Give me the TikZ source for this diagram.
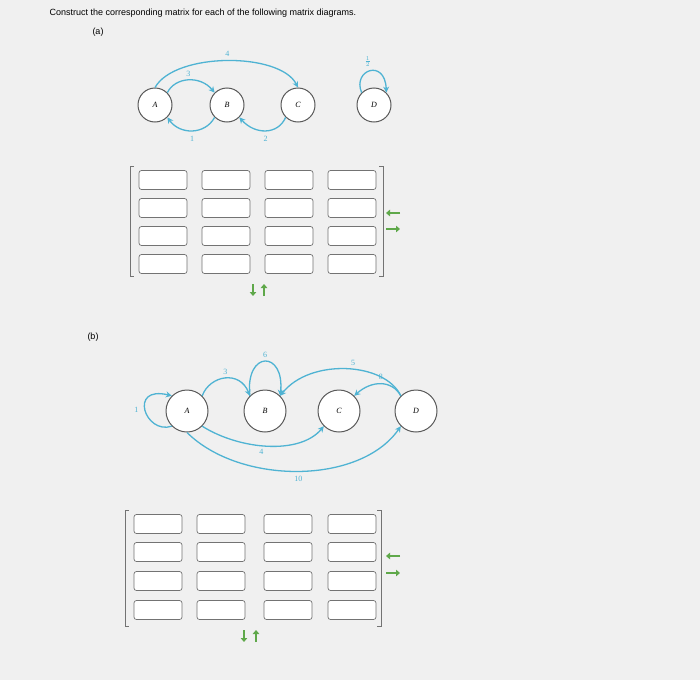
\documentclass[tikz,border=0pt]{standalone}
\usepackage{fontspec}
\setmainfont{Liberation Serif}
\newfontfamily\uifont{Liberation Sans}
\usetikzlibrary{arrows.meta}
\definecolor{edge}{HTML}{4FB3D3}
\definecolor{grn}{HTML}{5FA84A}
\begin{document}
\begin{tikzpicture}[x=1pt,y=-1pt,
  vert/.style={circle,draw=black!65,line width=1pt,fill=white,inner sep=0pt,font=\itshape\footnotesize},
  va/.style={vert,minimum size=34pt},
  vb/.style={vert,minimum size=42pt},
  ed/.style={draw=edge,line width=1.3pt,-{Stealth[length=6pt,width=6pt]}},
  el/.style={text=edge,font=\footnotesize},
  cell/.style={draw=black!55,rounded corners=2.5pt,fill=white,line width=0.7pt,minimum width=48pt,minimum height=19pt,inner sep=0pt},
  brk/.style={draw=black!55,line width=0.8pt},
  garr/.style={draw=grn,line width=2.2pt,-{Triangle[length=4pt,width=6.5pt]}}]
\fill[black!6] (0,0) rectangle (700,680);
\node[anchor=west,font=\uifont\small] (title) at (46,13) {Construct the corresponding matrix for each of the following matrix diagrams.};
\node[font=\uifont\small] (la) at (98,32) {(a)};
\node[font=\uifont\small] (lb) at (93,337) {(b)};
% (a) graph
\node[va] (A) at (155,105) {A};
\node[va] (B) at (227,105) {B};
\node[va] (C) at (298,105) {C};
\node[va] (D) at (374,105) {D};
\draw[ed] (A.north) .. controls (175,52) and (280,52) .. (C.north) node[el,pos=0.5,above] {4};
\draw[ed] (A.north east) .. controls (175,77) and (200,75) .. (B.north west) node[el,pos=0.5,above] {3};
\draw[ed] (B.south west) .. controls (205,135) and (180,135) .. (A.south east) node[el,pos=0.5,below=2pt] {1};
\draw[ed] (C.south west) .. controls (278,135) and (255,135) .. (B.south east) node[el,pos=0.5,below=2pt] {2};
\draw[ed] (D.north west) .. controls (352,70) and (385,58) .. (D.north east) node[el,pos=0.45,above=1pt] {$\frac{1}{2}$};
% (a) matrix
\foreach \r/\y in {1/180,2/208,3/236,4/264}{
  \foreach \c/\x in {1/163,2/226,3/289,4/352}{
    \node[cell] (a\r\c) at (\x,\y) {};}}
\draw[brk] (134,166) -- (130,166) -- (130,276) -- (134,276);
\draw[brk] (379,166) -- (383,166) -- (383,276) -- (379,276);
\coordinate (ar1) at (400,213); \coordinate (ar2) at (386,213);
\coordinate (ar3) at (386,229); \coordinate (ar4) at (400,229);
\draw[garr] (ar1) -- (ar2); \draw[garr] (ar3) -- (ar4);
\coordinate (ad1) at (253,284); \coordinate (ad2) at (253,296);
\coordinate (au1) at (264,296); \coordinate (au2) at (264,284);
\draw[garr] (ad1) -- (ad2); \draw[garr] (au1) -- (au2);
% (b) graph
\node[vb] (A2) at (187,411) {A};
\node[vb] (B2) at (265,411) {B};
\node[vb] (C2) at (339,411) {C};
\node[vb] (D2) at (416,411) {D};
\draw[ed] (A2.south west) .. controls (145,435) and (128,385) .. (A2.north west) node[el,pos=0.5,left=3pt] {1};
\draw[ed] (A2.north east) .. controls (210,375) and (240,370) .. (B2.north west) node[el,pos=0.5,above] {3};
\draw[ed] (B2.north west) .. controls (245,350) and (285,350) .. (B2.north east) node[el,pos=0.5,above] {6};
\draw[ed] (D2.north west) .. controls (385,362) and (310,358) .. (B2.north east) node[el,pos=0.45,above] {5};
\draw[ed] (D2.north west) .. controls (392,380) and (372,380) .. (C2.north east) node[el,pos=0.5,above] {8};
\draw[ed] (A2.south east) .. controls (240,450) and (300,455) .. (C2.south west) node[el,pos=0.45,below] {4};
\draw[ed] (A2.south) .. controls (240,485) and (360,485) .. (D2.south west) node[el,pos=0.5,below=1pt] {10};
% (b) matrix
\foreach \r/\y in {1/524,2/552,3/581,4/610}{
  \foreach \c/\x in {1/158,2/221,3/288,4/352}{
    \node[cell] (b\r\c) at (\x,\y) {};}}
\draw[brk] (129,510) -- (125,510) -- (125,626) -- (129,626);
\draw[brk] (377,510) -- (381,510) -- (381,626) -- (377,626);
\coordinate (br1) at (400,556); \coordinate (br2) at (386,556);
\coordinate (br3) at (386,573); \coordinate (br4) at (400,573);
\draw[garr] (br1) -- (br2); \draw[garr] (br3) -- (br4);
\coordinate (bd1) at (244,630); \coordinate (bd2) at (244,642);
\coordinate (bu1) at (256,642); \coordinate (bu2) at (256,630);
\draw[garr] (bd1) -- (bd2); \draw[garr] (bu1) -- (bu2);
\end{tikzpicture}
\end{document}
